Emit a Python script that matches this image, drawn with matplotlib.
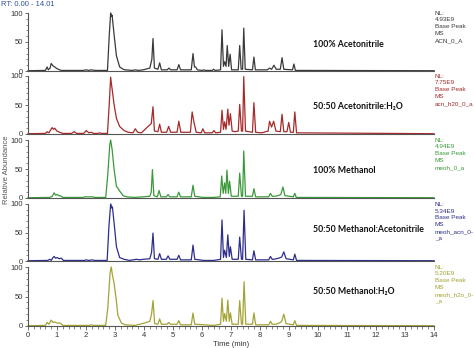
import matplotlib
matplotlib.use("Agg")
import matplotlib.pyplot as plt
from matplotlib.ticker import MultipleLocator

plt.rcParams["font.family"] = ["Liberation Sans", "DejaVu Sans"]

# retention time (min), relative abundance (%) for each run
acn_100 = [(0, 0.5), (0.6, 1), (0.66, 7), (0.7, 2), (0.76, 5), (0.80, 13), (0.86, 9),
           (0.92, 7), (1.0, 4), (1.09, 2), (1.15, 1), (1.9, 1), (2.01, 2), (2.1, 1),
           (2.18, 2), (2.3, 1), (2.74, 1), (2.80, 60), (2.85, 100), (2.88, 94),
           (2.90, 96), (2.97, 62), (3.05, 26), (3.16, 7), (3.28, 3), (3.35, 2),
           (3.6, 1), (3.70, 2), (3.8, 1), (3.97, 2), (4.2, 5), (4.27, 20), (4.31, 56),
           (4.36, 5), (4.48, 3), (4.54, 14), (4.6, 2), (4.8, 2), (4.86, 5), (4.92, 2),
           (5.14, 2), (5.20, 11), (5.26, 2), (5.63, 2), (5.69, 30), (5.74, 7),
           (5.78, 7), (5.84, 2), (6.0, 1), (6.06, 2), (6.12, 1), (6.35, 1), (6.40, 3),
           (6.45, 1), (6.64, 2), (6.69, 71), (6.74, 8), (6.78, 16), (6.83, 8),
           (6.87, 44), (6.92, 8), (6.97, 29), (7.02, 2), (7.25, 2), (7.30, 44),
           (7.35, 3), (7.40, 3), (7.44, 74), (7.49, 3), (7.74, 2), (7.79, 24),
           (7.84, 2), (8.25, 2), (8.33, 5), (8.40, 3), (8.48, 10), (8.56, 3),
           (8.70, 3), (8.76, 23), (8.82, 3), (9.12, 2), (9.17, 12), (9.22, 1), (14, 0.5)]

acn_h2o = [(0, 0.5), (0.6, 1), (0.66, 4), (0.72, 2), (0.83, 11), (0.88, 8), (0.92, 10),
           (1.0, 5), (1.09, 3), (1.2, 1), (1.5, 1), (1.59, 4), (1.68, 1), (1.92, 1),
           (2.01, 6), (2.1, 2), (2.18, 3), (2.26, 1), (2.40, 1), (2.47, 2), (2.54, 1),
           (2.74, 1), (2.80, 50), (2.85, 98), (2.88, 85), (2.90, 78), (2.97, 50),
           (3.05, 27), (3.16, 13), (3.31, 6), (3.45, 3), (3.62, 2), (3.70, 9),
           (3.78, 3), (3.91, 2), (4.14, 13), (4.25, 18), (4.31, 47), (4.36, 5),
           (4.48, 4), (4.54, 17), (4.6, 3), (4.78, 3), (4.85, 13), (4.92, 3),
           (5.14, 3), (5.20, 22), (5.27, 3), (5.60, 3), (5.66, 38), (5.72, 21),
           (5.80, 3), (5.97, 2), (6.03, 9), (6.09, 2), (6.35, 2), (6.41, 6),
           (6.47, 2), (6.64, 3), (6.69, 41), (6.74, 8), (6.78, 21), (6.83, 8),
           (6.89, 43), (6.93, 15), (6.98, 35), (7.04, 5), (7.15, 4), (7.25, 5),
           (7.30, 51), (7.36, 5), (7.40, 5), (7.44, 99), (7.50, 5), (7.74, 3),
           (7.79, 54), (7.85, 3), (8.05, 2), (8.28, 5), (8.33, 22), (8.40, 12),
           (8.47, 22), (8.55, 5), (8.70, 4), (8.76, 34), (8.82, 4), (8.93, 4),
           (8.99, 20), (9.05, 3), (9.15, 3), (9.20, 38), (9.26, 2), (14, 0.5)]

meoh_100 = [(0, 0.5), (0.75, 1), (0.84, 3), (0.90, 9), (0.95, 5), (1.01, 6), (1.06, 4),
            (1.11, 4), (1.2, 1), (1.9, 1), (1.95, 2), (2.24, 2), (2.3, 1), (2.68, 1),
            (2.75, 40), (2.82, 92), (2.85, 100), (2.90, 84), (2.97, 49), (3.05, 20),
            (3.10, 17), (3.16, 12), (3.28, 4), (3.4, 2), (3.68, 1), (3.97, 2),
            (4.2, 3), (4.25, 10), (4.29, 49), (4.34, 4), (4.46, 2), (4.52, 13),
            (4.58, 2), (4.77, 2), (4.83, 6), (4.89, 2), (5.14, 2), (5.20, 10),
            (5.26, 2), (5.63, 2), (5.69, 22), (5.75, 3), (6.03, 1), (6.38, 1),
            (6.63, 2), (6.68, 38), (6.73, 8), (6.78, 26), (6.82, 8), (6.86, 48),
            (6.91, 8), (6.95, 29), (7.01, 3), (7.25, 3), (7.30, 43), (7.36, 3),
            (7.40, 3), (7.44, 81), (7.50, 3), (7.74, 3), (7.79, 16), (7.85, 2),
            (8.30, 2), (8.36, 8), (8.42, 3), (8.51, 3), (8.62, 4), (8.72, 6),
            (8.79, 19), (8.86, 4), (9.15, 2), (9.20, 8), (9.25, 1), (14, 0.5)]

meoh_acn = [(0, 0.5), (0.68, 1), (0.75, 3), (0.8, 1), (0.86, 6), (0.90, 8), (0.95, 5),
            (1.01, 6), (1.07, 4), (1.15, 5), (1.22, 1), (1.95, 1), (2.0, 2), (2.1, 1),
            (2.2, 2), (2.3, 1), (2.73, 1), (2.79, 60), (2.85, 100), (2.88, 93),
            (2.91, 95), (2.97, 66), (3.05, 25), (3.16, 6), (3.31, 3), (3.5, 1),
            (3.74, 3), (3.85, 2), (3.97, 3), (4.2, 4), (4.26, 15), (4.31, 49),
            (4.36, 4), (4.48, 3), (4.54, 13), (4.6, 3), (4.77, 3), (4.83, 9),
            (4.89, 3), (5.14, 3), (5.20, 10), (5.26, 2), (5.63, 2), (5.69, 28),
            (5.75, 3), (6.06, 1), (6.41, 1), (6.64, 3), (6.69, 72), (6.74, 6),
            (6.78, 19), (6.84, 6), (6.89, 46), (6.94, 8), (6.98, 25), (7.04, 3),
            (7.25, 3), (7.30, 42), (7.36, 3), (7.40, 3), (7.45, 89), (7.51, 3),
            (7.74, 2), (7.79, 18), (7.85, 2), (8.30, 2), (8.36, 8), (8.42, 3),
            (8.47, 3), (8.65, 5), (8.75, 7), (8.82, 16), (8.90, 4), (9.15, 2),
            (9.20, 12), (9.26, 1), (14, 0.5)]

meoh_h2o = [(0, 0.5), (0.6, 1), (0.66, 6), (0.72, 3), (0.80, 10), (0.86, 6), (0.92, 7),
            (1.0, 5), (1.11, 5), (1.2, 1), (2.1, 1), (2.18, 2), (2.26, 1), (2.68, 1),
            (2.75, 30), (2.83, 90), (2.87, 100), (2.91, 87), (2.97, 72), (3.05, 41),
            (3.10, 18), (3.22, 5), (3.35, 2), (3.68, 1), (4.02, 5), (4.20, 8),
            (4.26, 20), (4.31, 43), (4.37, 4), (4.48, 3), (4.54, 12), (4.6, 3),
            (4.79, 3), (4.85, 6), (4.91, 3), (5.14, 3), (5.20, 9), (5.26, 2),
            (5.63, 2), (5.69, 22), (5.75, 3), (6.41, 1), (6.64, 3), (6.69, 47),
            (6.74, 8), (6.78, 21), (6.84, 8), (6.89, 44), (6.94, 8), (6.98, 22),
            (7.04, 3), (7.25, 3), (7.30, 43), (7.36, 3), (7.40, 3), (7.45, 75),
            (7.51, 3), (7.74, 3), (7.79, 22), (7.85, 2), (8.30, 2), (8.36, 8),
            (8.42, 3), (8.56, 3), (8.70, 6), (8.75, 8), (8.82, 20), (8.90, 4),
            (9.15, 2), (9.20, 9), (9.26, 1), (14, 0.5)]

traces = [acn_100, acn_h2o, meoh_100, meoh_acn, meoh_h2o]
titles = ["100% Acetonitrile", "50:50 Acetonitrile:H₂O", "100% Methanol",
          "50:50 Methanol:Acetonitrile", "50:50 Methanol:H₂O"]
title_y = [45, 47, 47, 56, 58]
nl_values = ["4.93E9", "7.75E9", "4.94E9", "5.34E9", "5.20E9"]
file_names = ["ACN_0_A", "acn_h20_0_a", "meoh_0_a", "meoh_acn_0-\n_a", "meoh_h2o_0-\n_a"]
colors = ["#3a3a3a", "#a52a2a", "#3a9a3a", "#2e2e8c", "#a3a336"]

W, H = 474, 348
fig = plt.figure(figsize=(W / 100, H / 100), dpi=100)

# pixel rows of the 100% and 0% levels of each panel
tops = [13, 76, 140, 204, 267]
bottoms = [71, 134, 198, 261, 326]
left, right = 28, 434

for i, pts in enumerate(traces):
    ax = fig.add_axes([left / W, 1 - bottoms[i] / H, (right - left) / W,
                       (bottoms[i] - tops[i]) / H])
    t = [p[0] for p in pts]
    v = [p[1] for p in pts]
    ax.plot(t, v, color=colors[i], lw=0.9, clip_on=False)
    ax.set_xlim(0, 14)
    ax.set_ylim(0, 100)
    for side in ["top", "right"]:
        ax.spines[side].set_visible(False)
    for side in ["left", "bottom"]:
        ax.spines[side].set_color("#555555")
        ax.spines[side].set_linewidth(0.8)
    ax.set_yticks([0, 50, 100])
    ax.yaxis.set_minor_locator(MultipleLocator(10))
    ax.tick_params(axis="y", which="major", labelsize=5.5, length=2.5, width=0.6,
                   pad=1, colors="#555555", labelcolor="#333333")
    ax.tick_params(axis="y", which="minor", length=1.5, width=0.5, colors="#555555")
    if i < 4:
        ax.tick_params(axis="x", which="both", bottom=False, labelbottom=False)
    else:
        ax.set_xticks(range(15))
        ax.xaxis.set_minor_locator(MultipleLocator(0.2))
        ax.tick_params(axis="x", which="major", labelsize=5.5, length=3, width=0.6,
                       pad=1.5, colors="#555555", labelcolor="#333333")
        ax.tick_params(axis="x", which="minor", length=2, width=0.5, colors="#555555")
        ax.set_xlabel("Time (min)", fontsize=5.5, color="#333333", labelpad=1)

    ax.text(9.83, title_y[i], titles[i], fontsize=6.3, fontweight="bold",
            family=["Lato", "DejaVu Sans"], color="#111111", va="center", ha="left")
    ax.text(14.03, 104, "NL:\n" + nl_values[i] + "\nBase Peak\nMS\n" + file_names[i],
            fontsize=4.6, color=colors[i], va="top", ha="left", linespacing=1.45,
            clip_on=False)

fig.text(1 / W, 1 - 4 / H, "RT: 0.00 - 14.01", fontsize=5.5, color="#3050a0",
         va="center", ha="left")
fig.text(7 / W, 1 - 170 / H, "Relative Abundance", fontsize=5.5, color="#555555",
         rotation=90, va="center", ha="center")

fig.savefig("out.png", dpi=100)
